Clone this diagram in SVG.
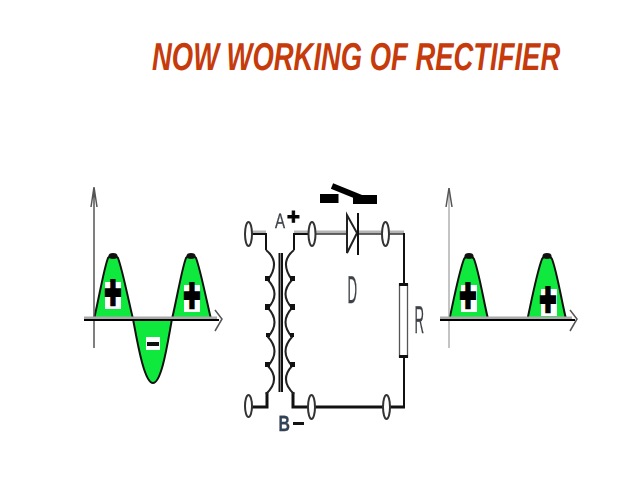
<svg xmlns="http://www.w3.org/2000/svg" width="638" height="478" viewBox="0 0 638 478">
<defs>
<style>
text{text-rendering:geometricPrecision}
.lbl{font-family:"Liberation Sans",Arial,sans-serif;fill:#3c4046;stroke:#3c4046;stroke-width:.3}
.sign{font-family:"Liberation Sans",Arial,sans-serif;font-weight:700;fill:#000;stroke:#000;stroke-width:2.200;text-anchor:middle}
.axis{fill:none;stroke:#555;stroke-width:1.500}
.base{fill:none;stroke:#000;stroke-width:2}
.baseg{fill:none;stroke:#aaa;stroke-width:3}
.wave{fill:#0fe83c;stroke:#111;stroke-width:2;stroke-linejoin:round}
.box{fill:#fff}
.wire{fill:none;stroke:#111;stroke-width:2}
.wirebold{fill:none;stroke:#111;stroke-width:3}
.wireg{fill:none;stroke:#b5b5b5;stroke-width:3}
.wired{fill:none;stroke:#333;stroke-width:1.300}
.term{fill:#fff;stroke:#333;stroke-width:2}
.coil{fill:none;stroke:#222;stroke-width:2}
.nub{fill:#111}
</style>
</defs>
<rect width="638" height="478" fill="#fff"/>
<text id="title" transform="translate(152 70) scale(.703 1)" font-family="Liberation Sans,Arial,sans-serif" font-weight="700" font-style="italic" font-size="39" fill="#c63b0c">NOW WORKING OF RECTIFIER</text>

<g id="input-wave">
<path class="wave" d="M94 319C99 298 104 268 108 258Q113 252 118 258C122 268 128 298 133 319Z"/>
<path class="wave" d="M172 319C177 298 182 268 186 258Q191 252 196 258C200 268 206 298 211 319Z"/>
<path class="wave" d="M133 319C137 340 144 383 153 383C162 383 168 340 172 319Z"/>
<ellipse class="nub" cx="113" cy="256" rx="4.500" ry="3"/>
<ellipse class="nub" cx="191" cy="256" rx="4.500" ry="3"/>
<rect class="box" x="105" y="282" width="16" height="27"/>
<rect class="box" x="184" y="285" width="16" height="27"/>
<rect class="box" x="146" y="337" width="14" height="13"/>
<path class="axis" d="M94 348V187M91 207L94 187L97 207"/>
<path class="baseg" d="M84 318H217"/>
<path class="base" d="M84 320H219"/>
<path class="axis" d="M215 310L222 319L215 331"/>
<text class="sign" transform="translate(113 308) scale(1 1.650)" font-size="28">+</text>
<text class="sign" transform="translate(192 311) scale(1 1.650)" font-size="28">+</text>
<rect x="147" y="342" width="12" height="4" fill="#111"/>
</g>

<g id="connectors">
<path class="wireg" d="M252 232H266M294 232H308M316 232H347M358 232H382M389 232H404"/>
<path class="wired" d="M316 234H347M358 234H382M389 234H404"/>
<path class="wire" d="M252 234H266V250M294 250V234H308M404 233V284M404 357V406"/>
<path class="wirebold" d="M252 407H267V392M293 392V407H308M315 407H383M390 407H405"/>
</g>

<g id="terminal-top-left"><ellipse class="term" cx="248.500" cy="234" rx="3.500" ry="12"/></g>
<g id="terminal-bottom-left"><ellipse class="term" cx="248.500" cy="406" rx="3.500" ry="11"/></g>
<g id="terminal-top-mid"><ellipse class="term" cx="312" cy="234" rx="3.500" ry="12"/></g>
<g id="terminal-top-right"><ellipse class="term" cx="385.500" cy="234" rx="3.500" ry="12"/></g>
<g id="terminal-bottom-mid"><ellipse class="term" cx="311.500" cy="407" rx="3.500" ry="12"/></g>
<g id="terminal-bottom-right"><ellipse class="term" cx="386.500" cy="407" rx="3.500" ry="12"/></g>

<g id="transformer">
<path class="coil" d="M266 250Q281 262 268 280Q281 294 268 308Q281 322 268 337Q281 351 268 366Q281 380 266 394"/>
<path class="coil" d="M294 250Q279 262 292 280Q279 294 292 308Q279 322 292 337Q279 351 292 366Q279 380 294 394"/>
<path d="M279.500 253V392M282 253V392" fill="none" stroke="#111" stroke-width="2"/>
<g class="nub">
<rect x="265" y="276" width="5" height="5"/><rect x="265" y="304" width="5" height="6"/><rect x="266" y="333" width="4" height="4"/><rect x="265" y="362" width="5" height="5"/>
<rect x="290" y="276" width="5" height="5"/><rect x="290" y="304" width="5" height="6"/><rect x="290" y="333" width="4" height="4"/><rect x="290" y="362" width="5" height="5"/>
</g>
</g>

<g id="diode">
<path d="M347 215V253L357 233Z" fill="#fff" stroke="#222" stroke-width="2"/>
<path d="M358 213V255" stroke="#111" stroke-width="2" fill="none"/>
</g>

<g id="switch">
<rect x="320" y="194" width="18.500" height="9" fill="#000"/>
<rect x="353" y="195" width="24" height="9" fill="#000"/>
<path d="M332 186L364 199" stroke="#000" stroke-width="6" fill="none"/>
</g>

<g id="resistor">
<rect x="399.500" y="284" width="8" height="73" fill="#fff" stroke="#555" stroke-width="1.300"/>
<rect x="399" y="283" width="9" height="3" fill="#111"/>
<rect x="399" y="355" width="9" height="3" fill="#111"/>
</g>

<g id="labels" opacity=".99">
<text class="lbl" transform="translate(275 228) scale(.72 1)" font-size="21">A</text>
<text class="sign" x="293.500" y="224" font-size="22" style="stroke-width:1">+</text>
<text class="lbl" transform="translate(347.500 303) scale(.34 1)" font-size="39">D</text>
<text class="lbl" transform="translate(414.500 333) scale(.34 1)" font-size="39">R</text>
<text class="lbl" transform="translate(278.500 431) scale(.72 1)" font-size="22" style="fill:#2c4057;font-weight:700">B</text>
<rect x="293" y="422" width="11" height="3" fill="#111"/>
</g>

<g id="output-wave">
<path class="wave" d="M449.500 319C454 298 459 272 464 259Q469 251 474 259C479 272 483 298 488 319Z"/>
<path class="wave" d="M527.500 319C532 298 537 272 542 259Q547 251 552 259C557 272 561 298 566 319Z"/>
<ellipse class="nub" cx="469" cy="256" rx="4.500" ry="3"/>
<ellipse class="nub" cx="547" cy="256" rx="4.500" ry="3"/>
<rect class="box" x="461" y="285" width="16" height="27"/>
<rect class="box" x="541" y="289" width="16" height="27"/>
<path d="M449 348V188" fill="none" stroke="#888" stroke-width="1"/>
<path class="axis" d="M446 207L449 188L452 207"/>
<path class="baseg" d="M440 318H572"/>
<path class="base" d="M440 320H575"/>
<path class="axis" d="M570 310L577 319L570 331"/>
<text class="sign" transform="translate(468 311) scale(1 1.650)" font-size="28">+</text>
<text class="sign" transform="translate(548 315) scale(1 1.650)" font-size="28">+</text>
</g>
</svg>
